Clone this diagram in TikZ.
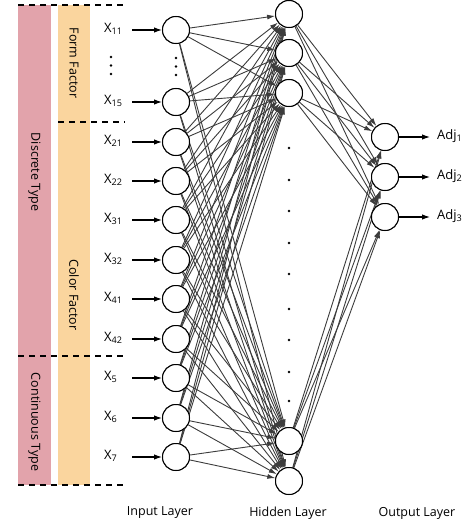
\documentclass[tikz,border=0pt]{standalone}
\usepackage{fontspec}
\setmainfont{Open Sans}
\usetikzlibrary{arrows.meta}
\definecolor{pinkbar}{HTML}{E2A3AB}
\definecolor{orangebar}{HTML}{FAD59E}
\definecolor{edgegray}{HTML}{3C3C3C}
\tikzset{
  neuron/.style={circle,draw=black,line width=1pt,minimum size=27pt,inner sep=0pt,fill=white},
  lbl/.style={font=\fontsize{13}{14}\selectfont,inner sep=0pt,anchor=west},
  layerlbl/.style={font=\fontsize{12.5}{14}\selectfont,inner sep=0pt},
  barlbl/.style={font=\fontsize{12.5}{14}\selectfont,rotate=-90,inner sep=0pt},
  inarrow/.style={-{Latex[length=8pt,width=5.5pt]},line width=1.1pt,black},
  wire/.style={-{Latex[length=8pt,width=5pt]},line width=0.9pt,edgegray},
  sep/.style={dashed,dash pattern=on 6pt off 5pt,line width=1.2pt,black},
  dotm/.style={circle,fill=black,inner sep=0pt,minimum size=2.8pt}
}
\begin{document}
\begin{tikzpicture}[x=1pt,y=-1pt]
\useasboundingbox (0,0) rectangle (474,527);
% bars
\fill[pinkbar] (18,5) rectangle (51,485);
\fill[orangebar] (58,5) rectangle (90,485);
\draw[sep] (18,5) -- (125,5);
\draw[sep] (58,122) -- (125,122);
\draw[sep] (18,356) -- (125,356);
\draw[sep] (18,485) -- (125,485);
\node[barlbl] (dt) at (34.5,172) {Discrete Type};
\node[barlbl] (ct) at (34.5,422) {Continuous Type};
\node[barlbl] (ff) at (74,63) {Form Factor};
\node[barlbl] (cf) at (74,295) {Color Factor};
% input layer
\foreach \n/\y/\s in {1/30/11,2/102/15,3/142/21,4/181/22,5/220/31,6/260/32,7/299/41,8/339/42,9/378/5,10/418/6,11/457/7}{
  \node[neuron] (i\n) at (176,\y) {};
  \node[lbl] (x\n) at (104,\y-1) {X\textsubscript{\s}};
  \coordinate (a\n) at (132,\y);
}
% hidden layer
\foreach \n/\y in {1/14,2/53,3/93,4/441,5/481}{
  \node[neuron] (h\n) at (289,\y) {};
}
% output layer
\foreach \n/\y in {1/137,2/177,3/217}{
  \node[neuron] (o\n) at (385,\y) {};
  \coordinate (b\n) at (430,\y);
  \node[lbl] (adj\n) at (437,\y-1) {Adj\textsubscript{\n}};
}
% connections
\foreach \i in {1,...,11}{
  \foreach \h in {1,...,5}{
    \draw[wire] (i\i) -- (h\h);
  }
}
\foreach \h in {1,...,5}{
  \foreach \o in {1,2,3}{
    \draw[wire] (h\h) -- (o\o);
  }
}
% redraw neurons on top
\foreach \n/\y in {1/30,2/102,3/142,4/181,5/220,6/260,7/299,8/339,9/378,10/418,11/457}{
  \node[neuron] at (176,\y) {};
  \draw[inarrow] (a\n) -- (i\n);
}
\foreach \n/\y in {1/14,2/53,3/93,4/441,5/481}{
  \node[neuron] at (289,\y) {};
}
\foreach \n/\y in {1/137,2/177,3/217}{
  \node[neuron] at (385,\y) {};
  \draw[inarrow] (o\n) -- (b\n);
}
% dots
\foreach \y [count=\k] in {58,66.5,75}{
  \node[dotm] (di\k) at (176,\y) {};
  \node[dotm] (dl\k) at (111,\y-1) {};
}
\foreach \y [count=\k] in {148,180,211,243,274,309,340,372,401}{
  \node[dotm] (dh\k) at (289,\y) {};
}
% layer labels
\node[layerlbl] (il) at (160,513) {Input Layer};
\node[layerlbl] (hl) at (288,513) {Hidden Layer};
\node[layerlbl] (ol) at (417,513) {Output Layer};
\end{tikzpicture}
\end{document}
